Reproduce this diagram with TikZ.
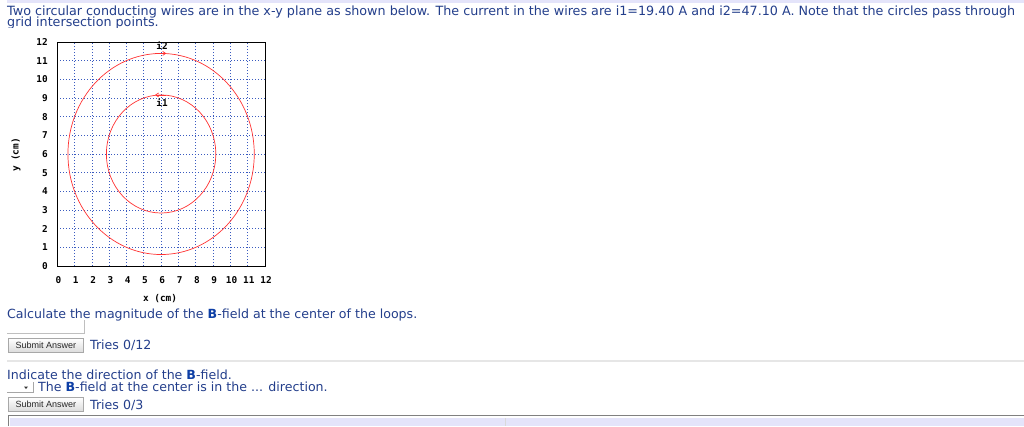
\documentclass[tikz,border=0pt]{standalone}
\usepackage{fontspec}
\setmainfont{DejaVu Sans}
\newfontfamily\plotfont{DejaVu Sans Mono}
\newfontfamily\btnfont{Liberation Sans}
\usetikzlibrary{arrows.meta}
\definecolor{textblue}{HTML}{233E8B}
\definecolor{boldblue}{HTML}{0E3FA6}
\definecolor{lav}{HTML}{E4E4FA}
\definecolor{gridblue}{HTML}{3A5BC0}
\definecolor{wirered}{HTML}{FF3333}
\definecolor{sepgray}{HTML}{E6E6E6}
\definecolor{btnborder}{HTML}{A8A8A8}
\tikzset{
  txt/.style={anchor=base west, inner sep=0pt, font=\fontsize{12.6}{14}\selectfont, text=textblue},
  tick/.style={inner sep=0pt, font=\plotfont\bfseries\fontsize{9.4}{10}\selectfont, text=black},
  gridl/.style={draw=gridblue, line width=0.8pt, dash pattern=on 1pt off 2pt},
  wire/.style={draw=wirered, line width=0.7pt},
  btnbox/.style={draw=btnborder, line width=0.6pt, top color=white, bottom color=black!14, minimum width=75pt, minimum height=14pt, inner sep=0pt, anchor=north west, font=\btnfont\fontsize{9}{10}\selectfont, text=black!85},
}
\newcommand{\Bb}{\textbf{\textcolor{boldblue}{B}}}
\begin{document}
\begin{tikzpicture}[x=1pt,y=-1pt]
\useasboundingbox (0,0) rectangle (1024,426);
% top band
\fill[lav] (7,0) rectangle (1024,2.7);
\begin{scope}
\clip (0,3) rectangle (1024,27.5);
\node[txt, font=\fontsize{12.72}{14}\selectfont] (t1) at (7,15) {Two circular conducting wires are in the x-y plane as shown below. The current in the wires are i1=19.40 A and i2=47.10 A. Note that the circles pass through};
\node[txt, font=\fontsize{12.72}{14}\selectfont] (t2) at (7,26.5) {grid intersection points.};
\end{scope}
% plot
\begin{scope}[shift={(57.3,266)}, x=17.3pt, y=18.67pt]
  \foreach \i in {1,...,11} {
    \draw[gridl] (\i,0) -- (\i,12);
    \draw[gridl] (0,\i) -- (12,\i);
  }
  \draw[black, line width=0.8pt] (0,0) rectangle (12,12);
  \draw[wire] (6,6) circle[radius=5.385];
  \draw[wire] (6,6) circle[radius=3.162];
  \draw[wire, -{Straight Barb[length=3pt,width=4pt]}] (5.65,11.385) -- (6.3,11.385);
  \draw[wire, -{Straight Barb[length=3pt,width=4pt]}] (6.3,9.162) -- (5.65,9.162);
  \foreach \i in {0,...,12} {
    \node[tick, anchor=east] (yl\i) at (-0.54,\i) {\i};
    \node[tick] (xl\i) at (\i+0.07,-0.75) {\i};
  }
\end{scope}
\node[tick] (i2) at (162,46) {i2};
\node[tick] (i1) at (162,102.3) {i1};
\node[tick] (xlab) at (160,299) {x (cm)};
\node[tick, rotate=90] (ylab) at (16,155) {y (cm)};
% question 1
\node[txt] (q1) at (7,318.3) {Calculate the magnitude of the \Bb-field at the center of the loops.};
\draw[black!25, line width=0.8pt] (7,333) -- (84,333) -- (84,320);
\node[btnbox] (b1) at (8,338) {Submit Answer};
\node[txt] (tr1) at (90,349.3) {Tries 0/12};
\draw[sepgray, line width=2pt] (7,360.5) -- (1024,360.5);
% question 2
\node[txt] (q2) at (7,379.3) {Indicate the direction of the \Bb-field.};
\draw[black!35, line width=0.6pt] (7,392) -- (33,392) -- (33,382);
\fill[black!80] (24,386.5) -- (28,386.5) -- (26,389) -- cycle;
\node[txt] (q3) at (38,391) {The \Bb-field at the center is in the ... direction.};
\node[btnbox] (b2) at (8,397) {Submit Answer};
\node[txt] (tr2) at (90,409) {Tries 0/3};
% bottom band
\fill[lav] (10,418) rectangle (1024,426);
\draw[black!50, line width=1.5pt] (8.5,426) -- (8.5,415.3) -- (1024,415.3);
\draw[white!85!black, line width=1pt] (505,418) -- (505,426);
\end{tikzpicture}
\end{document}
